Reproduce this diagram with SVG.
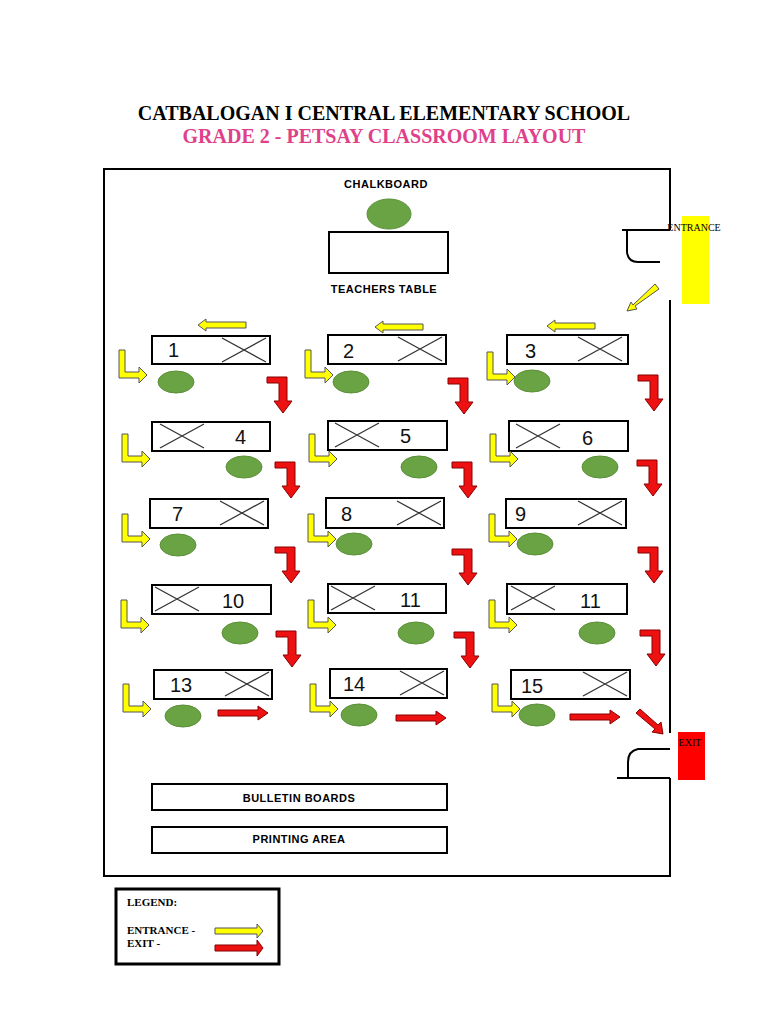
<svg xmlns="http://www.w3.org/2000/svg" xmlns:xlink="http://www.w3.org/1999/xlink" width="768" height="1024" viewBox="0 0 768 1024">
<style>
.ln{fill:none;stroke:#000;stroke-width:2}
.desk{fill:#fff;stroke:#000;stroke-width:2}
.x{stroke:#333;stroke-width:1.3}
.ch{fill:#6aa343;stroke:#5a8f38;stroke-width:1}
.ya{fill:#ffff00;stroke:#555;stroke-width:1}
.ra{fill:#ee1111;stroke:#800;stroke-width:1}
.lbl{font-family:"Liberation Sans",Arial,sans-serif;font-weight:bold;font-size:11px;text-anchor:middle;letter-spacing:0.5px}
.num{font-family:"Liberation Sans",Arial,sans-serif;font-size:20px;fill:#111}
.ser{font-family:"Liberation Serif","Times New Roman",serif}
</style>
<defs>
<path id="yl" class="ya" d="M0,0 h6 v22 h14 v-5 l8,8 l-8,8 v-5 h-20 z"/>
<path id="rd" class="ra" d="M0,0 h20 v24 h5 l-9,12 l-9,-12 h5 v-18 h-12 z"/>
<path id="yleft" class="ya" d="M0,0 l8,-6 v3 h40 v6 h-40 v3 z"/>
<path id="rright" class="ra" d="M0,-3 h40 v-4 l10,7 l-10,7 v-4 h-40 z"/>
<path id="xm" class="x" d="M0,0 L44,24 M0,24 L44,0"/>
</defs>
<rect width="768" height="1024" fill="#fff"/>
<text class="ser" x="384" y="120" text-anchor="middle" font-size="20" font-weight="bold">CATBALOGAN I CENTRAL ELEMENTARY SCHOOL</text>
<text class="ser" x="384" y="143" text-anchor="middle" font-size="20" font-weight="bold" fill="#e0408a">GRADE 2 - PETSAY CLASSROOM LAYOUT</text>
<g id="room">
<path class="ln" d="M670,230 V169 H104 V876 H670 V778 M670,733 V300"/>
<path class="ln" d="M622,230 H670 M627,231 V252 Q628,262 638,262 H660"/>
<path class="ln" d="M670,749 H638 Q628,751 628,762 V778 M617,778 H670" stroke-width="1.5"/>
</g>
<g id="entrance"><rect x="682" y="216" width="27" height="88" fill="#ffff00"/><text class="ser" x="694" y="231" text-anchor="middle" font-size="10">ENTRANCE</text></g>
<g id="exit"><rect x="678" y="732" width="27" height="48" fill="#ff0000"/><text class="ser" x="690" y="746" text-anchor="middle" font-size="10">EXIT</text></g>
<g id="chalkboard"><text class="lbl" x="386" y="188">CHALKBOARD</text><ellipse class="ch" cx="389" cy="214" rx="22" ry="15"/></g>
<g id="teacher"><rect class="desk" x="329" y="232" width="119" height="41"/><text class="lbl" x="384" y="293">TEACHERS TABLE</text></g>
<g id="desks">
<g id="d1"><rect class="desk" x="152" y="336" width="118" height="28"/><text class="num" x="168" y="357">1</text><use href="#xm" x="222" y="338"/></g>
<g id="d2"><rect class="desk" x="328" y="335" width="118" height="29"/><text class="num" x="343" y="358">2</text><use href="#xm" x="398" y="337"/></g>
<g id="d3"><rect class="desk" x="507" y="335" width="121" height="29"/><text class="num" x="525" y="358">3</text><use href="#xm" x="578" y="337"/></g>
<g id="d4"><rect class="desk" x="152" y="422" width="118" height="29"/><use href="#xm" x="160" y="424"/><text class="num" x="235" y="444">4</text></g>
<g id="d5"><rect class="desk" x="328" y="421" width="119" height="29"/><use href="#xm" x="335" y="423"/><text class="num" x="400" y="443">5</text></g>
<g id="d6"><rect class="desk" x="509" y="421" width="119" height="30"/><use href="#xm" x="516" y="424"/><text class="num" x="582" y="445">6</text></g>
<g id="d7"><rect class="desk" x="150" y="499" width="118" height="29"/><text class="num" x="172" y="521">7</text><use href="#xm" x="220" y="501"/></g>
<g id="d8"><rect class="desk" x="326" y="498" width="118" height="30"/><text class="num" x="341" y="521">8</text><use href="#xm" x="397" y="501"/></g>
<g id="d9"><rect class="desk" x="506" y="499" width="120" height="29"/><text class="num" x="515" y="521">9</text><use href="#xm" x="578" y="501"/></g>
<g id="d10"><rect class="desk" x="152" y="585" width="119" height="29"/><use href="#xm" x="155" y="587"/><text class="num" x="222" y="608">10</text></g>
<g id="d11"><rect class="desk" x="328" y="584" width="118" height="29"/><use href="#xm" x="331" y="586"/><text class="num" x="400" y="607">11</text></g>
<g id="d12"><rect class="desk" x="507" y="584" width="120" height="30"/><use href="#xm" x="511" y="586"/><text class="num" x="580" y="608">11</text></g>
<g id="d13"><rect class="desk" x="154" y="670" width="118" height="29"/><text class="num" x="170" y="692">13</text><use href="#xm" x="225" y="672"/></g>
<g id="d14"><rect class="desk" x="330" y="669" width="117" height="29"/><text class="num" x="343" y="691">14</text><use href="#xm" x="400" y="671"/></g>
<g id="d15"><rect class="desk" x="511" y="670" width="119" height="29"/><text class="num" x="521" y="693">15</text><use href="#xm" x="583" y="672"/></g>
</g>
<g id="chairs">
<ellipse class="ch" cx="176" cy="382" rx="18" ry="11"/><ellipse class="ch" cx="351" cy="382" rx="18" ry="11"/><ellipse class="ch" cx="532" cy="381" rx="18" ry="11"/>
<ellipse class="ch" cx="244" cy="467" rx="18" ry="11"/><ellipse class="ch" cx="419" cy="467" rx="18" ry="11"/><ellipse class="ch" cx="600" cy="467" rx="18" ry="11"/>
<ellipse class="ch" cx="178" cy="545" rx="18" ry="11"/><ellipse class="ch" cx="354" cy="544" rx="18" ry="11"/><ellipse class="ch" cx="535" cy="544" rx="18" ry="11"/>
<ellipse class="ch" cx="240" cy="633" rx="18" ry="11"/><ellipse class="ch" cx="416" cy="633" rx="18" ry="11"/><ellipse class="ch" cx="597" cy="633" rx="18" ry="11"/>
<ellipse class="ch" cx="183" cy="716" rx="18" ry="11"/><ellipse class="ch" cx="359" cy="715" rx="18" ry="11"/><ellipse class="ch" cx="537" cy="715" rx="18" ry="11"/>
</g>
<g id="connectors">
<use href="#yleft" x="198" y="325"/><use href="#yleft" x="375" y="327"/><use href="#yleft" x="547" y="326"/>
<path class="ya" d="M655,284 l4,5 l-24,17 l2,3 l-10,2 l4,-9 l2,3 z"/>
<use href="#yl" x="119" y="350"/><use href="#yl" x="305" y="350"/><use href="#yl" x="487" y="352"/>
<use href="#yl" x="122" y="434"/><use href="#yl" x="309" y="434"/><use href="#yl" x="490" y="434"/>
<use href="#yl" x="122" y="514"/><use href="#yl" x="308" y="514"/><use href="#yl" x="489" y="514"/>
<use href="#yl" x="121" y="600"/><use href="#yl" x="308" y="600"/><use href="#yl" x="489" y="600"/>
<use href="#yl" x="123" y="684"/><use href="#yl" x="310" y="684"/><use href="#yl" x="492" y="684"/>
<use href="#rd" x="267" y="377"/><use href="#rd" x="448" y="378"/><use href="#rd" x="638" y="375"/>
<use href="#rd" x="275" y="462"/><use href="#rd" x="452" y="462"/><use href="#rd" x="637" y="460"/>
<use href="#rd" x="275" y="547"/><use href="#rd" x="452" y="549"/><use href="#rd" x="638" y="547"/>
<use href="#rd" x="276" y="631"/><use href="#rd" x="454" y="632"/><use href="#rd" x="640" y="630"/>
<use href="#rright" x="218" y="713"/><use href="#rright" x="396" y="718"/><use href="#rright" x="570" y="717"/>
<path class="ra" d="M636,713 l4,-4 l18,16 l3,-3 l2,12 l-11,-2 l3,-3 z"/>
</g>
<g id="bulletin"><rect class="desk" x="152" y="784" width="295" height="26"/><text class="lbl" x="299" y="802">BULLETIN BOARDS</text></g>
<g id="printing"><rect class="desk" x="152" y="827" width="295" height="26"/><text class="lbl" x="299" y="843">PRINTING AREA</text></g>
<g id="legend">
<rect x="116" y="889" width="163" height="75" fill="#fff" stroke="#000" stroke-width="3"/>
<text class="ser" x="127" y="906" font-size="11" font-weight="bold">LEGEND:</text>
<text class="ser" x="127" y="934" font-size="11" font-weight="bold">ENTRANCE -</text>
<text class="ser" x="127" y="947" font-size="11" font-weight="bold">EXIT -</text>
<path class="ya" d="M215,928 h42 v-4 l6,7 l-6,7 v-4 h-42 z"/>
<path class="ra" d="M215,945 h42 v-5 l6,8 l-6,8 v-5 h-42 z"/>
</g>
</svg>
